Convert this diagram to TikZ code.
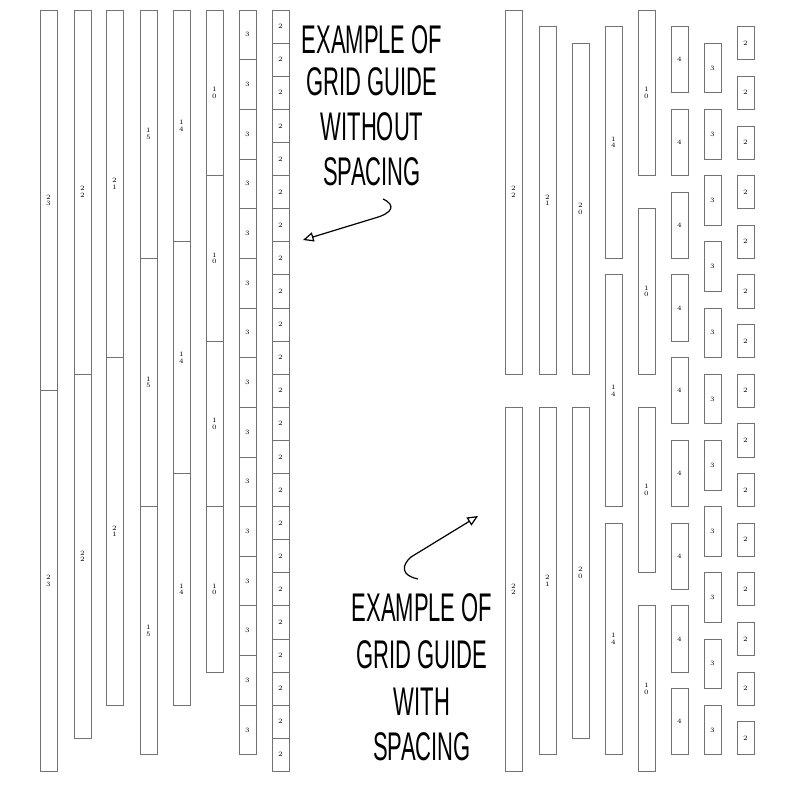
\documentclass[tikz,border=0pt]{standalone}
\usepackage{fontspec}
\newfontfamily\handfont[FakeStretch=0.55]{Liberation Sans}
\usetikzlibrary{arrows.meta, positioning}

% one grid cell: left x (px), top (units), length (units), label
\newcommand{\gbox}[4]{%
	\draw[cell] (#1,{10+(#2)*16.55}) rectangle ++(17,{(#3)*16.55});
	\node[numlab] at ({#1+8.5},{10+((#2)+(#3)/2)*16.55}) {#4};}

\begin{document}
\begin{tikzpicture}[x=0.75pt, y=-0.75pt,
	cell/.style={draw=black!55, line width=0.5pt},
	numlab/.style={font=\fontsize{5}{5}\selectfont, align=center, inner sep=0pt},
	hand/.style={font=\handfont\fontsize{30}{30}\selectfont, inner sep=0pt},
	note/.style={line width=0.9pt, -{Triangle[open, length=8pt, width=7pt]}}]
	
	\useasboundingbox (0,0) rectangle (794,794);
	
	% grid without spacing
	\foreach \t in {0,23} {\gbox{40}{\t}{23}{2\\3}}
	\foreach \t in {0,22} {\gbox{74}{\t}{22}{2\\2}}
	\foreach \t in {0,21} {\gbox{106}{\t}{21}{2\\1}}
	\foreach \t in {0,15,30} {\gbox{140}{\t}{15}{1\\5}}
	\foreach \t in {0,14,28} {\gbox{173}{\t}{14}{1\\4}}
	\foreach \t in {0,10,20,30} {\gbox{206}{\t}{10}{1\\0}}
	\foreach \i in {0,...,14} {\gbox{239}{3*\i}{3}{3}}
	\foreach \i in {0,...,22} {\gbox{272}{2*\i}{2}{2}}
	
	% grid with spacing
	\foreach \t in {0,24} {\gbox{505}{\t}{22}{2\\2}}
	\foreach \t in {1,24} {\gbox{539}{\t}{21}{2\\1}}
	\foreach \t in {2,24} {\gbox{572}{\t}{20}{2\\0}}
	\foreach \t in {1,16,31} {\gbox{605}{\t}{14}{1\\4}}
	\foreach \t in {0,12,24,36} {\gbox{638}{\t}{10}{1\\0}}
	\foreach \i in {0,...,8} {\gbox{671}{1+5*\i}{4}{4}}
	\foreach \i in {0,...,10} {\gbox{704}{2+4*\i}{3}{3}}
	\foreach \i in {0,...,14} {\gbox{737}{1+3*\i}{2}{2}}
	
	% notes
	\node[hand] (n1a) at (372,40) {EXAMPLE OF};
	\node[hand] (n1b) at (372,82) {GRID GUIDE};
	\node[hand] (n1c) at (372,127) {WITHOUT};
	\node[hand] (n1d) at (372,172) {SPACING};
	\node[hand] (n2a) at (422,608) {EXAMPLE OF};
	\node[hand] (n2b) at (422,655) {GRID GUIDE};
	\node[hand] (n2c) at (422,702) {WITH};
	\node[hand] (n2d) at (422,747) {SPACING};
	
	\coordinate (a1s) at (383,199);
	\coordinate (a1e) at (303,240);
	\coordinate (a2s) at (418,579);
	\coordinate (a2e) at (478,516);
	\draw[note] (a1s) .. controls (396,205) and (393,213) .. (375,218) -- (a1e);
	\draw[note] (a2s) .. controls (400,575) and (402,565) .. (411,557) -- (a2e);
	
\end{tikzpicture}
\end{document}
